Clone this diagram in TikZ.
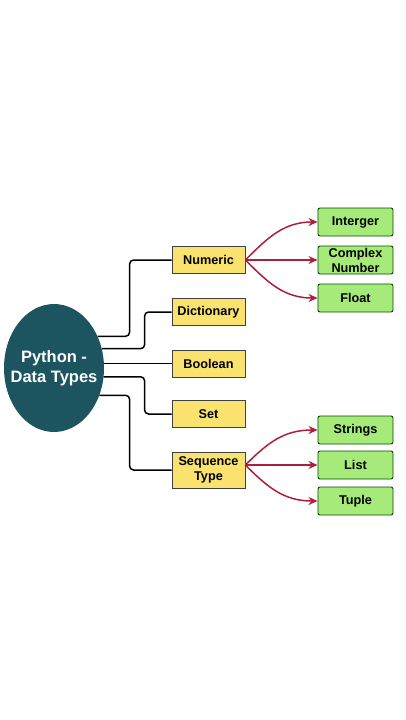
\documentclass[tikz,border=0pt]{standalone}
\usepackage{fontspec}
\setmainfont{Liberation Sans}
\usetikzlibrary{shapes.geometric,arrows.meta}
\definecolor{pyteal}{RGB}{28,84,96}
\definecolor{boxyellow}{RGB}{250,226,110}
\definecolor{boxgreen}{RGB}{166,234,122}
\definecolor{arrred}{RGB}{172,30,62}
\begin{document}
\begin{tikzpicture}[x=1pt,y=-1pt,
	ybox/.style={draw=black!75, fill=boxyellow, line width=0.8pt, minimum width=73, minimum height=27, inner sep=1pt, align=center, font=\bfseries\fontsize{12.7}{15}\selectfont},
	gbox/.style={draw=black!70!green, fill=boxgreen, line width=0.9pt, rounded corners=2, minimum width=75, minimum height=28, inner sep=1pt, align=center, font=\bfseries\fontsize{12.7}{15}\selectfont},
	link/.style={line width=1.5pt, rounded corners=4},
	arr/.style={draw=arrred, line width=1.5pt, -{Stealth[length=9pt,width=8pt]}}]
	\useasboundingbox (0,0) rectangle (405,720);
	\node (ell) [ellipse, fill=pyteal, minimum width=100, minimum height=128, inner sep=0pt,
		label={[text=white, align=center, font=\bfseries\fontsize{16.5}{20}\selectfont]center:Python -\\Data Types}] at (54,368) {};
	\foreach \y/\lbl [count=\i] in {260/Numeric, 312/Dictionary, 364/Boolean, 414/Set} {
		\node (b\i) [ybox] at (208.5,\y) {\lbl};
	}
	\node (b5) [ybox, minimum height=36] at (208.5,470) {Sequence\\Type};
	\foreach \y/\lbl [count=\i] in {222/Interger, 260/Complex\\Number, 298/Float, 430/Strings, 465/List, 501/Tuple} {
		\node (g\i) [gbox] at (355.5,\y) {\lbl};
	}
	\draw[link] (ell.36.5) -| ([xshift=-42]b1.west) -- (b1.west);
	\draw[link] (ell.22.8) -| ([xshift=-27]b2.west) -- (b2.west);
	\draw[link] (ell.5) -- (ell.5 -| b3.west);
	\draw[link] (ell.-10.3) -| ([xshift=-27]b4.west) -- (b4.west);
	\draw[link] (ell.-31.9) -| ([xshift=-42]b5.west) -- (b5.west);
	\foreach \i/\k/\j/\d in {1/2/1/-1,1/2/2/0,1/2/3/1,5/5/4/-1,5/5/5/0,5/5/6/1} {
		\draw[arr] (b\i.east |- g\k.west) .. controls +(22,22*\d) and +(-34,0) .. (g\j.west);
	}
\end{tikzpicture}
\end{document}
